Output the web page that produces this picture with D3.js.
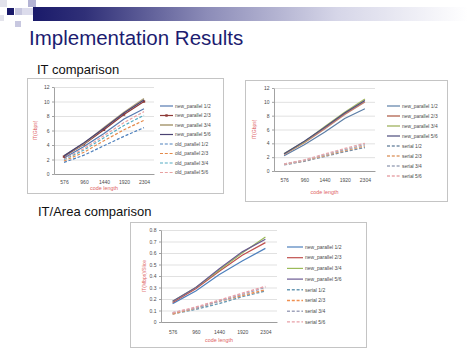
<!DOCTYPE html>
<html>
<head>
<meta charset="utf-8">
<script src="https://cdn.jsdelivr.net/npm/d3@7/dist/d3.min.js"></script>
<style>
  html, body { margin: 0; padding: 0; background: #fff; }
  svg { display: block; }
</style>
</head>
<body>
<svg id="slide" width="474" height="355"></svg>
<script>
// ---------------- DATA ----------------
const categories = ["576", "960", "1440", "1920", "2304"];
const itTicks = [0, 2, 4, 6, 8, 10, 12];
const areaTicks = [0, 0.1, 0.2, 0.3, 0.4, 0.5, 0.6, 0.7, 0.8];

const newNames = ["new_parallel 1/2", "new_parallel 2/3", "new_parallel 3/4", "new_parallel 5/6"];
const oldNames = ["old_parallel 1/2", "old_parallel 2/3", "old_parallel 3/4", "old_parallel 5/6"];
const serialNames = ["serial 1/2", "serial 2/3", "serial 3/4", "serial 5/6"];

// IT (Gbps)
const newParallel12 = [2.2, 3.8, 5.6, 7.6, 9.0];
const newParallel23 = [2.4, 4.1, 6.1, 8.2, 10.0];
const newParallel34 = [2.5, 4.2, 6.4, 8.5, 10.4];
const newParallel56 = [2.5, 4.3, 6.3, 8.4, 10.2];
const oldParallel12 = [1.6, 2.6, 3.9, 5.2, 6.4];
const oldParallel23 = [1.8, 3.0, 4.6, 6.1, 7.4];
const oldParallel34 = [2.0, 3.3, 5.0, 6.7, 8.1];
const oldParallel56 = [2.1, 3.5, 5.3, 7.1, 8.6];
const serial12 = [0.9, 1.4, 2.1, 2.8, 3.4];
const serial23 = [0.95, 1.5, 2.2, 2.95, 3.6];
const serial34 = [1.0, 1.55, 2.35, 3.1, 3.8];
const serial56 = [1.0, 1.6, 2.45, 3.25, 4.0];

// IT/Area (Mbps/Slice)
const newArea12 = [0.16, 0.27, 0.41, 0.53, 0.64];
const newArea23 = [0.17, 0.29, 0.44, 0.58, 0.69];
const newArea34 = [0.18, 0.30, 0.45, 0.60, 0.74];
const newArea56 = [0.18, 0.30, 0.46, 0.61, 0.72];
const serialArea12 = [0.07, 0.11, 0.16, 0.22, 0.27];
const serialArea23 = [0.07, 0.12, 0.18, 0.23, 0.28];
const serialArea34 = [0.08, 0.12, 0.18, 0.24, 0.30];
const serialArea56 = [0.08, 0.13, 0.19, 0.25, 0.31];

// ---------------- DRAW ----------------
const svg = d3.select("#slide");
const FONT = "'Liberation Sans', Arial, sans-serif";

// decorative header
const defs = svg.append("defs");
const grad = defs.append("linearGradient").attr("id", "bar").attr("x1", "0%").attr("x2", "100%");
[["0%", "#1a1a6a"], ["12%", "#303078"], ["40%", "#8c8cb8"], ["70%", "#d6d6e8"], ["100%", "#ffffff"]]
  .forEach(([o, c]) => grad.append("stop").attr("offset", o).attr("stop-color", c));
svg.append("rect").attr("x", 33).attr("y", 7).attr("width", 435).attr("height", 14).attr("fill", "url(#bar)");
[[0, 0, 7, 7, "#e2e2ec"], [28, 0, 8, 7, "#b4b4d4"], [7, 8, 7, 7, "#1a1a6a"], [15, 8, 7, 7, "#c6c6de"],
 [22, 8, 11, 7, "#dcdcec"], [15, 21, 6, 6, "#c8c8e0"], [0, 15, 4, 6, "#e4e4ec"]]
  .forEach(([x, y, w, h, c]) => svg.append("rect").attr("x", x).attr("y", y).attr("width", w).attr("height", h).attr("fill", c));

svg.append("text").attr("x", 29).attr("y", 45).attr("font-family", FONT).attr("font-size", 20.5)
  .attr("fill", "#1c1c70").text("Implementation Results");
svg.append("text").attr("x", 37).attr("y", 74).attr("font-family", FONT).attr("font-size", 13)
  .attr("fill", "#111").text("IT comparison");
svg.append("text").attr("x", 38).attr("y", 216).attr("font-family", FONT).attr("font-size", 13)
  .attr("fill", "#111").text("IT/Area comparison");

function drawChart(cfg) {
  const g = svg.append("g");
  g.append("rect").attr("x", cfg.box[0] + 0.5).attr("y", cfg.box[1] + 0.5)
    .attr("width", cfg.box[2] - cfg.box[0]).attr("height", cfg.box[3] - cfg.box[1])
    .attr("fill", "#fff").attr("stroke", "#c4c4c4").attr("stroke-width", 1);

  const x = d3.scalePoint().domain(categories).range([cfg.left, cfg.right]).padding(0.5);
  const y = d3.scaleLinear().domain(cfg.yDomain).range([cfg.bottom, cfg.top]);
  const w = cfg.right - cfg.left;

  // gridlines
  const grid = g.append("g").attr("transform", `translate(${cfg.left},0)`)
    .call(d3.axisLeft(y).tickValues(cfg.yTicks).tickSize(-w).tickFormat(""));
  grid.select(".domain").remove();
  grid.selectAll("line").attr("stroke", "#d9d9d9").attr("stroke-width", 0.8);

  // y axis
  const ya = g.append("g").attr("transform", `translate(${cfg.left},0)`)
    .call(d3.axisLeft(y).tickValues(cfg.yTicks).tickSizeInner(2).tickSizeOuter(0).tickPadding(2.5)
      .tickFormat(cfg.yFormat));
  ya.select(".domain").attr("stroke", "#8c8c8c").attr("stroke-width", 0.8);
  ya.selectAll("line").attr("stroke", "#8c8c8c").attr("stroke-width", 0.8);
  ya.selectAll("text").attr("font-family", FONT).attr("font-size", cfg.fs).attr("fill", "#4a4a4a");

  // x axis
  const xa = g.append("g").attr("transform", `translate(0,${cfg.bottom})`)
    .call(d3.axisBottom(x).tickSize(0).tickPadding(cfg.xPad));
  xa.select(".domain").attr("stroke", "#8c8c8c").attr("stroke-width", 0.8);
  xa.selectAll("text").attr("font-family", FONT).attr("font-size", cfg.fs).attr("fill", "#4a4a4a");

  // titles
  g.append("text").attr("x", (cfg.left + cfg.right) / 2).attr("y", cfg.xTitleY)
    .attr("text-anchor", "middle").attr("font-family", FONT).attr("font-size", cfg.fs + 0.4)
    .attr("fill", "#e06464").text("code length");
  g.append("text").attr("transform", `translate(${cfg.yTitleX},${(cfg.top + cfg.bottom) / 2}) rotate(-90)`)
    .attr("text-anchor", "middle").attr("font-family", FONT).attr("font-size", cfg.fs)
    .attr("fill", "#e06464").text(cfg.yTitle);

  const line = d3.line().x((d, i) => x(categories[i])).y(d => y(d));

  // dashed series first, then solid
  const order = cfg.series.map((s, i) => i).sort((a, b) => (cfg.series[b].dash ? 1 : 0) - (cfg.series[a].dash ? 1 : 0));
  order.forEach(i => {
    const s = cfg.series[i];
    g.append("path").datum(s.values).attr("d", line).attr("fill", "none")
      .attr("stroke", s.color).attr("stroke-width", s.width || 1.2)
      .attr("stroke-dasharray", s.dash ? "3,1.8" : null);
    if (s.marker) {
      g.selectAll(null).data(s.values).enter().append("rect")
        .attr("x", (d, j) => x(categories[j]) - 1.2).attr("y", d => y(d) - 1.2)
        .attr("width", 2.4).attr("height", 2.4).attr("fill", s.color);
    }
  });

  // legend
  cfg.series.forEach((s, i) => {
    const ly = cfg.legY + i * cfg.legStep;
    g.append("line").attr("x1", cfg.legX).attr("x2", cfg.legX + cfg.legLen).attr("y1", ly).attr("y2", ly)
      .attr("stroke", s.color).attr("stroke-width", s.width || 1.2)
      .attr("stroke-dasharray", s.dash ? "3,1.8" : null);
    if (s.marker) {
      g.append("rect").attr("x", cfg.legX + cfg.legLen / 2 - 1.2).attr("y", ly - 1.2)
        .attr("width", 2.4).attr("height", 2.4).attr("fill", s.color);
    }
    g.append("text").attr("x", cfg.legX + cfg.legLen + 2).attr("y", ly).attr("dy", "0.35em")
      .attr("font-family", FONT).attr("font-size", cfg.legFs).attr("fill", "#4a4a4a").text(s.name);
  });
}

const fmtInt = d3.format("d");
const fmtArea = d => d === 0 ? "0" : d3.format(".1f")(d);

// Chart 1: new vs old parallel
drawChart({
  box: [27, 78, 223, 193],
  left: 54, right: 154, top: 87, bottom: 174,
  yDomain: [0, 12], yTicks: itTicks, yFormat: fmtInt, fs: 5, xPad: 6,
  xTitleY: 190, yTitleX: 37, yTitle: "IT(Gbps)",
  legX: 160, legLen: 13, legY: 106, legStep: 9.5, legFs: 4.9,
  series: [
    { name: newNames[0], values: newParallel12, color: "#5579b0" },
    { name: newNames[1], values: newParallel23, color: "#8e3a36", marker: true },
    { name: newNames[2], values: newParallel34, color: "#b0a27e", width: 1.6 },
    { name: newNames[3], values: newParallel56, color: "#4a4272" },
    { name: oldNames[0], values: oldParallel12, color: "#4f81bd", dash: true },
    { name: oldNames[1], values: oldParallel23, color: "#e48a4a", dash: true },
    { name: oldNames[2], values: oldParallel34, color: "#54acc4", dash: true },
    { name: oldNames[3], values: oldParallel56, color: "#e8a0a0", dash: true }
  ]
});

// Chart 2: new parallel vs serial
drawChart({
  box: [245, 80, 447, 201],
  left: 274, right: 375, top: 88, bottom: 171,
  yDomain: [0, 12], yTicks: itTicks, yFormat: fmtInt, fs: 5, xPad: 7,
  xTitleY: 194, yTitleX: 256, yTitle: "IT(Gbps)",
  legX: 387, legLen: 13, legY: 106, legStep: 10, legFs: 4.9,
  series: [
    { name: newNames[0], values: newParallel12, color: "#5c7ea6" },
    { name: newNames[1], values: newParallel23, color: "#c08070", width: 1.6 },
    { name: newNames[2], values: newParallel34, color: "#a6b86a", width: 1.4 },
    { name: newNames[3], values: newParallel56, color: "#4c4c7c" },
    { name: serialNames[0], values: serial12, color: "#7890a8", dash: true, width: 1.4 },
    { name: serialNames[1], values: serial23, color: "#e0a070", dash: true, width: 1.4 },
    { name: serialNames[2], values: serial34, color: "#a0a8bc", dash: true, width: 1.4 },
    { name: serialNames[3], values: serial56, color: "#e8a8ac", dash: true, width: 1.4 }
  ]
});

// Chart 3: IT/Area
drawChart({
  box: [130, 222, 366, 347],
  left: 161, right: 277, top: 230, bottom: 322,
  yDomain: [0, 0.8], yTicks: areaTicks, yFormat: fmtArea, fs: 5, xPad: 8,
  xTitleY: 342, yTitleX: 146, yTitle: "IT(Mbps)/Slice",
  legX: 287, legLen: 16, legY: 247, legStep: 10.7, legFs: 5,
  series: [
    { name: newNames[0], values: newArea12, color: "#4f81bd" },
    { name: newNames[1], values: newArea23, color: "#c0504d" },
    { name: newNames[2], values: newArea34, color: "#9bbb59" },
    { name: newNames[3], values: newArea56, color: "#6a5a92" },
    { name: serialNames[0], values: serialArea12, color: "#6a9ab4", dash: true, width: 1.4 },
    { name: serialNames[1], values: serialArea23, color: "#f09050", dash: true, width: 1.4 },
    { name: serialNames[2], values: serialArea34, color: "#a0a4bc", dash: true, width: 1.4 },
    { name: serialNames[3], values: serialArea56, color: "#e8a0a8", dash: true, width: 1.4 }
  ]
});
</script>
</body>
</html>
